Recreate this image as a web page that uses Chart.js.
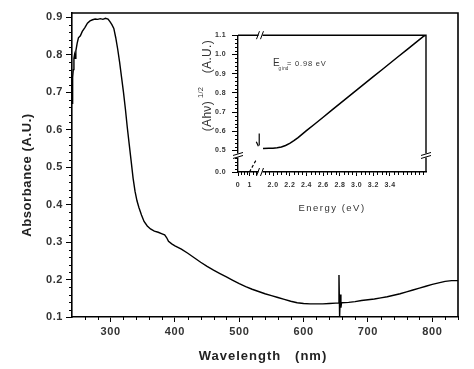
<!DOCTYPE html>
<html><head><meta charset="utf-8">
<script src="https://cdn.jsdelivr.net/npm/chart.js@4.4.1/dist/chart.umd.min.js"></script>
<style>
html,body{margin:0;padding:0;background:#fff;}
#wrap{position:relative;width:474px;height:369px;overflow:hidden;}
#main{position:absolute;left:0;top:0;}
#inset{position:absolute;left:150px;top:25px;}
</style></head><body>
<div id="wrap">
<canvas id="main" width="474" height="369"></canvas>
<canvas id="inset" width="290" height="200"></canvas>
</div>
<script>
// ---------- main spectrum ----------
const wavelength = [240,241,242,243,244,245,246,248,250,253,256,260,264,268,272,276,280,284,288,292,296,299,302,305,308,311,314,317,320,323,326,329,332,335,338,341,344,348,352,357,362,368,374,380,384,387,390,395,400,410,420,430,440,450,460,470,480,490,500,510,520,530,540,550,560,570,580,590,600,610,620,630,640,650,654,655,656,657,658,659,670,680,690,700,710,720,730,740,750,760,770,780,790,800,810,820,830,840];
const absorbance = [0.67,0.74,0.76,0.79,0.80,0.79,0.81,0.83,0.845,0.85,0.862,0.872,0.884,0.89,0.893,0.895,0.894,0.896,0.894,0.897,0.895,0.888,0.88,0.87,0.845,0.815,0.78,0.74,0.70,0.655,0.605,0.56,0.515,0.47,0.435,0.41,0.392,0.372,0.355,0.343,0.335,0.329,0.326,0.322,0.319,0.312,0.302,0.295,0.29,0.281,0.27,0.258,0.246,0.235,0.225,0.216,0.207,0.198,0.189,0.181,0.174,0.168,0.162,0.157,0.152,0.147,0.142,0.138,0.136,0.135,0.135,0.135,0.136,0.137,0.137,0.212,0.10,0.16,0.125,0.138,0.139,0.141,0.144,0.146,0.148,0.151,0.154,0.158,0.162,0.167,0.172,0.177,0.182,0.187,0.191,0.195,0.197,0.197];
const mainXTicks = [300,400,500,600,700,800];
const mainYTicks = [0.1,0.2,0.3,0.4,0.5,0.6,0.7,0.8,0.9];
const mainXTitle = 'Wavelength   (nm)';
const mainYTitle = 'Absorbance (A.U.)';

// ---------- inset (Tauc plot) ----------
const energy = [1.88,1.95,2.0,2.05,2.1,2.15,2.2,2.25,2.3,2.35,2.4,2.5,2.6,2.7,2.8,2.9,3.0,3.1,3.2,3.3,3.4,3.5,3.6,3.7,3.8,3.83];
const ahvHalf = [0.51,0.511,0.512,0.514,0.518,0.526,0.537,0.551,0.567,0.585,0.603,0.638,0.673,0.709,0.744,0.779,0.814,0.849,0.884,0.919,0.954,0.989,1.024,1.059,1.094,1.1];
const extrapEnergy = [0.98,1.6];
const extrapAhv = [0.0,0.38];
const insetXTickValues = [0,1,2.0,2.2,2.4,2.6,2.8,3.0,3.2,3.4];
const insetXTickLabels = ['0','1','2.0','2.2','2.4','2.6','2.8','3.0','3.2','3.4'];
const insetYTickValues = [0.0,0.5,0.6,0.7,0.8,0.9,1.0,1.1];
const insetYTickLabels = ['0.0','0.5','0.6','0.7','0.8','0.9','1.0','1.1'];
const insetXTitle = 'Energy (eV)';
const egLabel = '= 0.98 eV';

const FONT = "Arial, 'Liberation Sans', Helvetica, sans-serif";

// broken-axis mapping for the inset
function fx(e){ return e <= 1.6 ? 1.581 + 0.14*e : e; }
function fy(v){ return v >= 0.47 ? v : 0.388 + 0.18*v; }

function range(a,b,s){const r=[];for(let v=a;v<=b+1e-9;v+=s)r.push(Math.round(v*1000)/1000);return r;}
function isMult(v,s){return Math.abs(v/s-Math.round(v/s))<1e-6;}

const mainXMinor = range(260,840,20).filter(v=>!isMult(v,100));
const mainYMinor = range(0.1,0.9,0.02).filter(v=>!isMult(v,0.1));
const insetXMinor = [0.25,0.5,0.75,1.25,1.5].concat(range(1.9,3.8,0.05).filter(v=>!isMult(v,0.2)||v>3.41));
const insetYMinor = [0.1,0.2,0.3,0.4].concat(range(0.5,1.1,0.02).filter(v=>!isMult(v,0.1)));

const mainDecor = {
  id:'mainDecor',
  beforeDraw(chart){ chart.ctx.letterSpacing='0.6px'; },
  afterDraw(chart){
    const {ctx, chartArea:a, scales:{x,y}} = chart;
    ctx.save();
    ctx.strokeStyle='#000';
    ctx.lineWidth=1.6;
    ctx.beginPath(); ctx.moveTo(a.left,a.top); ctx.lineTo(a.right,a.top); ctx.lineTo(a.right,a.bottom); ctx.stroke();
    ctx.lineWidth=1;
    mainXMinor.forEach(v=>{const p=Math.round(x.getPixelForValue(v))+0.5;ctx.beginPath();ctx.moveTo(p,a.bottom);ctx.lineTo(p,a.bottom+3);ctx.stroke();});
    mainYMinor.forEach(v=>{const p=Math.round(y.getPixelForValue(v))+0.5;ctx.beginPath();ctx.moveTo(a.left,p);ctx.lineTo(a.left-3,p);ctx.stroke();});
    // axis titles
    ctx.fillStyle='#222';
    ctx.font='bold 13px '+FONT;
    ctx.letterSpacing='1px';
    ctx.textAlign='center'; ctx.textBaseline='alphabetic';
    ctx.fillText(mainXTitle,(a.left+a.right)/2-2,a.bottom+43);
    ctx.save();
    ctx.translate(a.left-41,(a.top+a.bottom)/2+10);
    ctx.rotate(-Math.PI/2);
    ctx.letterSpacing='0.6px';
    ctx.fillText(mainYTitle,0,0);
    ctx.restore();
    ctx.restore();
  }
};

new Chart(document.getElementById('main'),{
  type:'line',
  data:{datasets:[{data:wavelength.map((w,i)=>({x:w,y:absorbance[i]})),borderColor:'#000',borderWidth:1.4,pointRadius:0,tension:0,fill:false}]},
  options:{
    responsive:false,animation:false,events:[],
    layout:{padding:{top:13,right:16,left:0,bottom:0}},
    plugins:{legend:{display:false},tooltip:{enabled:false}},
    scales:{
      x:{type:'linear',min:240,max:840,
        afterBuildTicks:s=>{s.ticks=mainXTicks.map(v=>({value:v}));},
        afterFit:s=>{s.height=52;},
        grid:{drawOnChartArea:false,tickLength:5,tickWidth:1,tickColor:'#000'},
        border:{color:'#000',width:1.6},
        ticks:{color:'#333',font:{family:FONT,size:11,weight:'bold'},padding:3,maxRotation:0,autoSkip:false,callback:v=>String(v)}
      },
      y:{type:'linear',min:0.1,max:0.911,
        afterBuildTicks:s=>{s.ticks=mainYTicks.map(v=>({value:v}));},
        afterFit:s=>{s.width=72;},
        grid:{drawOnChartArea:false,tickLength:6,tickWidth:1,tickColor:'#000'},
        border:{color:'#000',width:1.6},
        ticks:{color:'#333',font:{family:FONT,size:11,weight:'bold'},padding:3,autoSkip:false,callback:v=>v.toFixed(1)}
      }
    }
  },
  plugins:[mainDecor]
});

const insetDecor = {
  id:'insetDecor',
  beforeDraw(chart){ chart.ctx.letterSpacing='0.4px'; },
  afterDraw(chart){
    const {ctx, chartArea:a, scales:{x,y}} = chart;
    ctx.save();
    ctx.strokeStyle='#000';
    ctx.lineWidth=1.4;
    ctx.beginPath(); ctx.moveTo(a.left,a.top); ctx.lineTo(a.right,a.top); ctx.lineTo(a.right,a.bottom); ctx.stroke();
    ctx.lineWidth=1;
    insetXMinor.forEach(e=>{const p=Math.round(x.getPixelForValue(fx(e)))+0.5;ctx.beginPath();ctx.moveTo(p,a.bottom);ctx.lineTo(p,a.bottom+3);ctx.stroke();});
    insetYMinor.forEach(v=>{const p=Math.round(y.getPixelForValue(fy(v)))+0.5;ctx.beginPath();ctx.moveTo(a.left,p);ctx.lineTo(a.left-3,p);ctx.stroke();});
    // axis breaks
    const bx=x.getPixelForValue(1.85), by=y.getPixelForValue(0.474);
    ctx.fillStyle='#fff';
    ctx.fillRect(bx-2,a.top-2,4,4); ctx.fillRect(bx-2,a.bottom-2,4,4);
    ctx.fillRect(a.left-2,by-2,4,4); ctx.fillRect(a.right-2,by-2,4,4);
    ctx.lineWidth=1;
    const slash=(cx,cy)=>{ctx.beginPath();ctx.moveTo(cx-4,cy+4);ctx.lineTo(cx-1,cy-4);ctx.moveTo(cx,cy+4);ctx.lineTo(cx+3,cy-4);ctx.stroke();};
    const eq=(cx,cy)=>{ctx.beginPath();ctx.moveTo(cx-5,cy+1);ctx.lineTo(cx+5,cy-2);ctx.moveTo(cx-5,cy+4);ctx.lineTo(cx+5,cy+1);ctx.stroke();};
    slash(bx,a.top); slash(bx,a.bottom); eq(a.left,by-1); eq(a.right,by-1);
    // break symbol on the curve
    ctx.lineWidth=1.2;
    const vx=x.getPixelForValue(1.835);
    ctx.beginPath();ctx.moveTo(vx,y.getPixelForValue(0.588));ctx.lineTo(vx,y.getPixelForValue(0.526));ctx.stroke();
    ctx.beginPath();ctx.moveTo(x.getPixelForValue(1.80),y.getPixelForValue(0.545));ctx.lineTo(x.getPixelForValue(1.825),y.getPixelForValue(0.522));ctx.stroke();
    // texts
    ctx.fillStyle='#333';
    ctx.textBaseline='alphabetic';
    ctx.textAlign='center';
    ctx.font='9.5px '+FONT; ctx.letterSpacing='1.5px';
    ctx.fillText(insetXTitle,(a.left+a.right)/2,a.bottom+38.5);
    // y title (rotated)
    ctx.save();
    ctx.translate(a.left-27,a.top+96);
    ctx.rotate(-Math.PI/2);
    ctx.textAlign='left';
    ctx.letterSpacing='0.3px';
    ctx.font='12px '+FONT;
    ctx.fillText('(Ah\u03BD)',0,0);
    const w1=ctx.measureText('(Ah\u03BD)').width;
    ctx.font='7.5px '+FONT;
    ctx.fillText('1/2',w1+3,-8);
    ctx.font='12px '+FONT;
    ctx.fillText('(A.U.)',58,0);
    ctx.restore();
    // Eg annotation
    ctx.textAlign='left';
    ctx.letterSpacing='0px';
    ctx.font='10px '+FONT;
    ctx.fillText('E',a.left+35,a.top+31);
    ctx.font='4.5px '+FONT;
    ctx.fillText('g ind',a.left+40.5,a.top+34.5);
    ctx.font='7.5px '+FONT; ctx.letterSpacing='0.8px';
    ctx.fillText(egLabel,a.left+49,a.top+31);
    ctx.restore();
  }
};

new Chart(document.getElementById('inset'),{
  type:'line',
  data:{datasets:[
    {data:energy.map((e,i)=>({x:fx(e),y:fy(ahvHalf[i])})),borderColor:'#000',borderWidth:1.5,pointRadius:0,tension:0,fill:false},
    {data:extrapEnergy.map((e,i)=>({x:fx(e),y:fy(extrapAhv[i])})),borderColor:'#000',borderWidth:1.2,borderDash:[3,2],pointRadius:0,tension:0,fill:false}
  ]},
  options:{
    responsive:false,animation:false,events:[],
    layout:{padding:{top:9,right:14,left:0,bottom:0}},
    plugins:{legend:{display:false},tooltip:{enabled:false}},
    scales:{
      x:{type:'linear',min:1.581,max:3.831,
        afterBuildTicks:s=>{s.ticks=insetXTickValues.map(v=>({value:fx(v)}));},
        afterFit:s=>{s.height=53;},
        grid:{drawOnChartArea:false,tickLength:4,tickWidth:1,tickColor:'#000'},
        border:{color:'#000',width:1.4},
        ticks:{color:'#333',font:{family:FONT,size:7,weight:'bold'},padding:5,maxRotation:0,autoSkip:false,callback:(v,i)=>insetXTickLabels[i]}
      },
      y:{type:'linear',min:0.388,max:1.1,
        afterBuildTicks:s=>{s.ticks=insetYTickValues.map(v=>({value:fy(v)}));},
        afterFit:s=>{s.width=88;},
        grid:{drawOnChartArea:false,tickLength:6,tickWidth:1,tickColor:'#000'},
        border:{color:'#000',width:1.4},
        ticks:{color:'#333',font:{family:FONT,size:7,weight:'bold'},padding:6,autoSkip:false,callback:(v,i)=>insetYTickLabels[i]}
      }
    }
  },
  plugins:[insetDecor]
});
</script>
</body></html>
